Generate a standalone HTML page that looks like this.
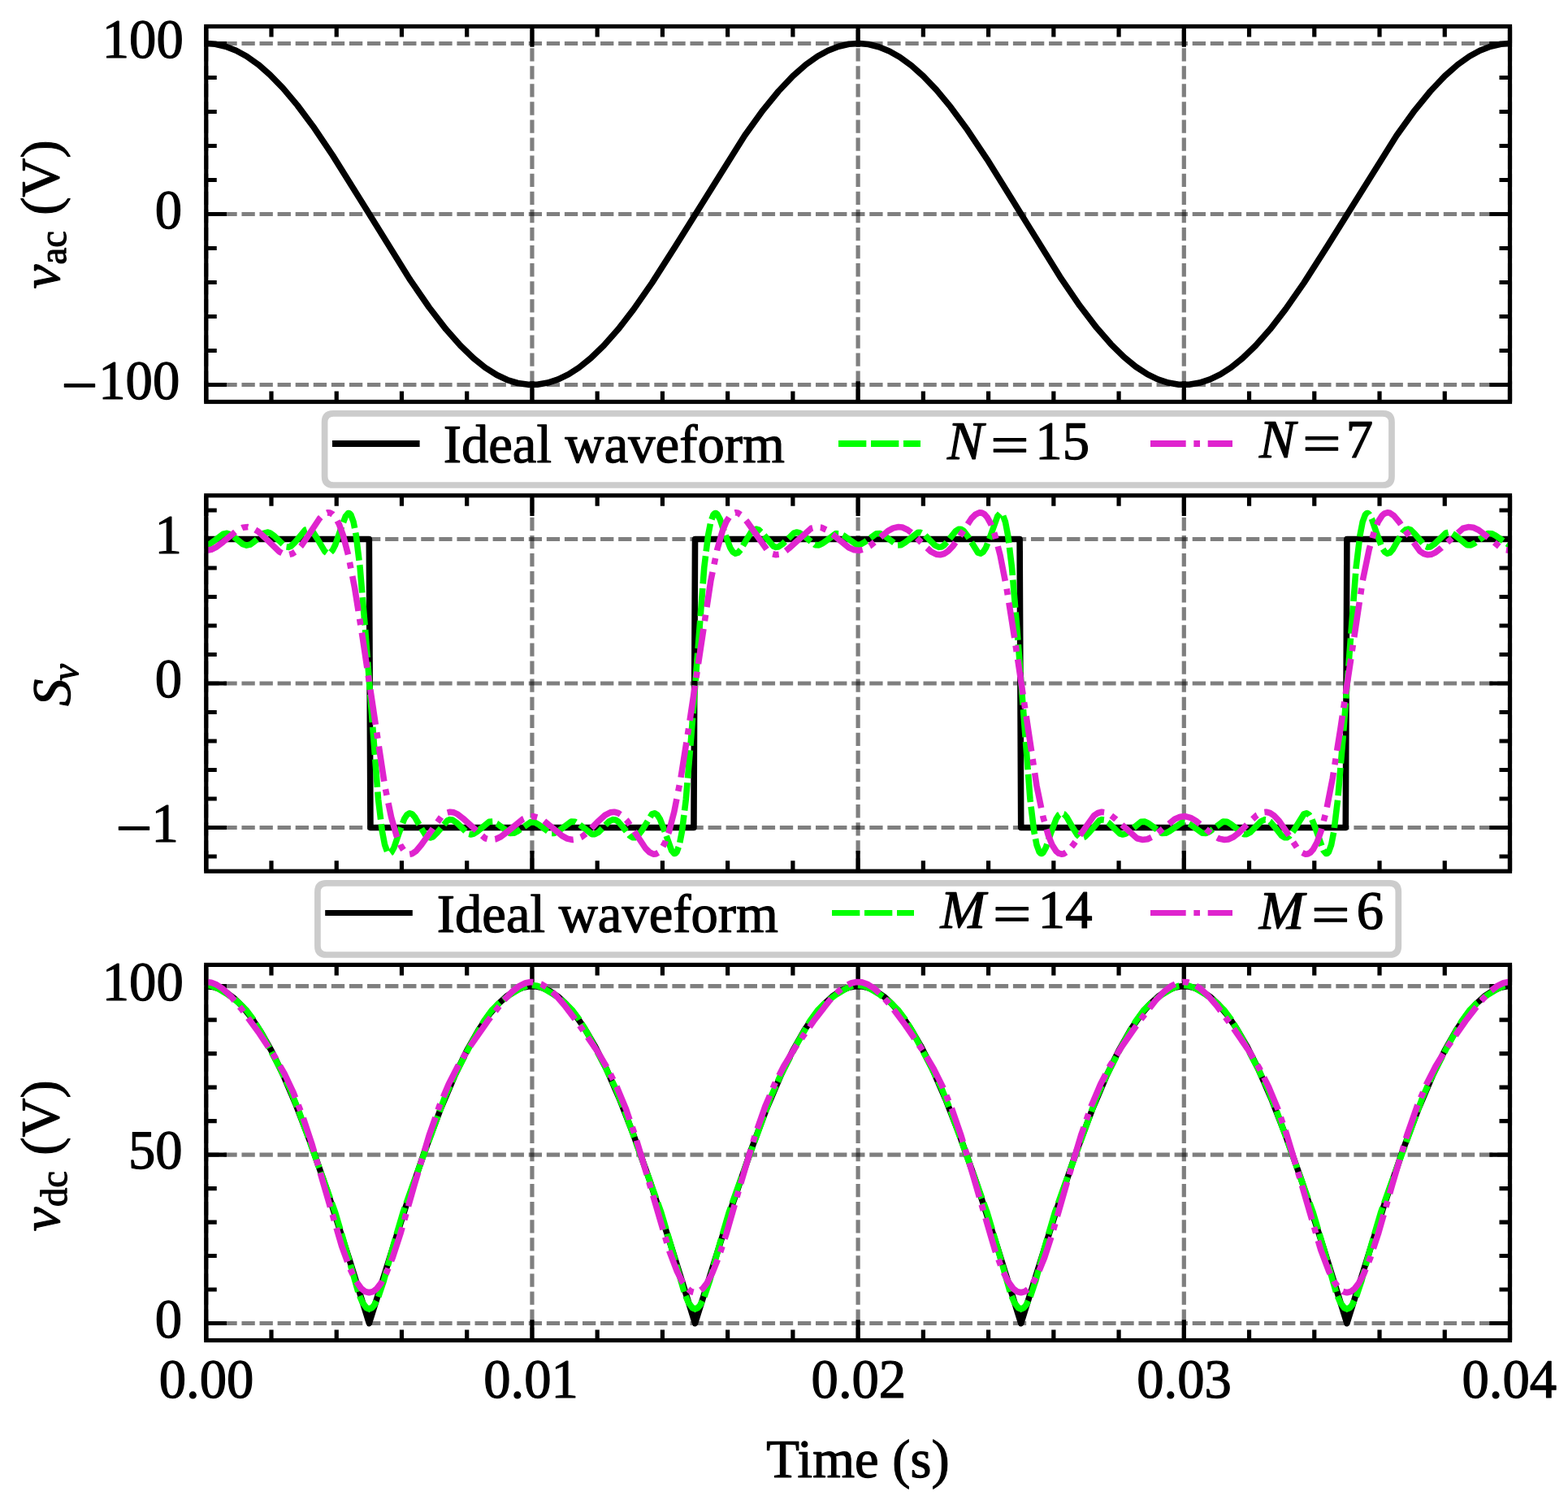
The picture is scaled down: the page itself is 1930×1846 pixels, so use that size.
<!DOCTYPE html>
<html><head><meta charset="utf-8"><title>Waveforms</title>
<style>html,body{margin:0;padding:0;background:#fff;overflow:hidden}svg{display:block}</style></head>
<body>
<svg width="1930" height="1846" viewBox="0 0 1930 1846">
<rect width="1930" height="1846" fill="#fff"/>
<defs>
<clipPath id="c0"><rect x="253.75" y="32.5" width="1604.75" height="462.0"/></clipPath>
<clipPath id="c1"><rect x="253.75" y="609.8" width="1604.75" height="462.4000000000001"/></clipPath>
<clipPath id="c2"><rect x="253.75" y="1187.4" width="1604.75" height="462.0999999999999"/></clipPath>
</defs>
<g stroke="#000" stroke-opacity="0.5" stroke-width="5.2" stroke-dasharray="16.3 5.78" stroke-dashoffset="0.45" fill="none"><path d="M253.75 494.5V32.5" /><path d="M654.94 494.5V32.5" /><path d="M1056.12 494.5V32.5" /><path d="M1457.31 494.5V32.5" /><path d="M1858.50 494.5V32.5" /><path d="M253.75 473.50H1858.5" /><path d="M253.75 263.50H1858.5" /><path d="M253.75 53.50H1858.5" /></g>
<path d="M253.75 494.5v-25.2M253.75 32.5v25.2M333.99 494.5v-13.0M333.99 32.5v13.0M414.23 494.5v-13.0M414.23 32.5v13.0M494.46 494.5v-13.0M494.46 32.5v13.0M574.70 494.5v-13.0M574.70 32.5v13.0M654.94 494.5v-25.2M654.94 32.5v25.2M735.17 494.5v-13.0M735.17 32.5v13.0M815.41 494.5v-13.0M815.41 32.5v13.0M895.65 494.5v-13.0M895.65 32.5v13.0M975.89 494.5v-13.0M975.89 32.5v13.0M1056.12 494.5v-25.2M1056.12 32.5v25.2M1136.36 494.5v-13.0M1136.36 32.5v13.0M1216.60 494.5v-13.0M1216.60 32.5v13.0M1296.84 494.5v-13.0M1296.84 32.5v13.0M1377.08 494.5v-13.0M1377.08 32.5v13.0M1457.31 494.5v-25.2M1457.31 32.5v25.2M1537.55 494.5v-13.0M1537.55 32.5v13.0M1617.79 494.5v-13.0M1617.79 32.5v13.0M1698.03 494.5v-13.0M1698.03 32.5v13.0M1778.26 494.5v-13.0M1778.26 32.5v13.0M1858.50 494.5v-25.2M1858.50 32.5v25.2M253.75 473.50h25.2M1858.5 473.50h-25.2M253.75 431.50h13.0M1858.5 431.50h-13.0M253.75 389.50h13.0M1858.5 389.50h-13.0M253.75 347.50h13.0M1858.5 347.50h-13.0M253.75 305.50h13.0M1858.5 305.50h-13.0M253.75 263.50h25.2M1858.5 263.50h-25.2M253.75 221.50h13.0M1858.5 221.50h-13.0M253.75 179.50h13.0M1858.5 179.50h-13.0M253.75 137.50h13.0M1858.5 137.50h-13.0M253.75 95.50h13.0M1858.5 95.50h-13.0M253.75 53.50h25.2M1858.5 53.50h-25.2" stroke="#000" stroke-width="5.2" fill="none"/>
<g clip-path="url(#c0)" fill="none" stroke-width="7.6" stroke-linejoin="round">
<polyline points="253.75,53.50 264.98,54.31 277.82,57.22 290.66,62.21 303.50,69.23 317.94,79.48 332.38,92.07 348.43,108.62 366.08,129.64 385.34,155.47 409.41,191.12 441.51,242.42 504.09,343.25 528.16,378.24 549.02,405.32 566.68,425.31 582.72,440.81 597.17,452.38 611.61,461.53 624.45,467.54 637.29,471.50 650.12,473.35 661.36,473.23 674.19,471.12 687.03,466.90 699.87,460.63 712.71,452.38 727.15,440.81 743.20,425.31 760.85,405.32 780.11,380.44 802.57,348.11 831.46,302.85 916.51,166.99 938.98,135.83 958.24,112.24 975.89,93.61 991.94,79.48 1006.38,69.23 1019.22,62.21 1032.05,57.22 1044.89,54.31 1057.73,53.52 1068.96,54.56 1081.80,57.73 1094.64,62.98 1107.48,70.25 1121.92,80.76 1136.36,93.61 1152.41,110.42 1170.06,131.68 1190.92,160.03 1215.00,196.10 1248.70,250.31 1304.86,340.81 1328.93,376.02 1349.79,403.36 1367.45,423.61 1383.49,439.38 1397.94,451.21 1412.38,460.63 1425.22,466.90 1438.06,471.12 1450.89,473.23 1463.73,473.23 1476.57,471.12 1489.41,466.90 1502.25,460.63 1515.08,452.38 1529.53,440.81 1545.57,425.31 1563.23,405.32 1582.48,380.44 1604.95,348.11 1633.84,302.85 1718.89,166.99 1741.35,135.83 1760.61,112.24 1778.26,93.61 1794.31,79.48 1808.75,69.23 1821.59,62.21 1834.43,57.22 1847.27,54.31 1858.50,53.50 1858.50,53.50" stroke="#000000" stroke-linecap="square"/>
</g>
<rect x="253.75" y="32.5" width="1604.75" height="462.0" fill="none" stroke="#000" stroke-width="5.2"/>
<g stroke="#000" stroke-opacity="0.5" stroke-width="5.2" stroke-dasharray="16.3 5.78" stroke-dashoffset="0.45" fill="none"><path d="M253.75 1072.2V609.8" /><path d="M654.94 1072.2V609.8" /><path d="M1056.12 1072.2V609.8" /><path d="M1457.31 1072.2V609.8" /><path d="M1858.50 1072.2V609.8" /><path d="M253.75 1018.49H1858.5" /><path d="M253.75 841.00H1858.5" /><path d="M253.75 663.51H1858.5" /></g>
<path d="M253.75 1072.2v-25.2M253.75 609.8v25.2M333.99 1072.2v-13.0M333.99 609.8v13.0M414.23 1072.2v-13.0M414.23 609.8v13.0M494.46 1072.2v-13.0M494.46 609.8v13.0M574.70 1072.2v-13.0M574.70 609.8v13.0M654.94 1072.2v-25.2M654.94 609.8v25.2M735.17 1072.2v-13.0M735.17 609.8v13.0M815.41 1072.2v-13.0M815.41 609.8v13.0M895.65 1072.2v-13.0M895.65 609.8v13.0M975.89 1072.2v-13.0M975.89 609.8v13.0M1056.12 1072.2v-25.2M1056.12 609.8v25.2M1136.36 1072.2v-13.0M1136.36 609.8v13.0M1216.60 1072.2v-13.0M1216.60 609.8v13.0M1296.84 1072.2v-13.0M1296.84 609.8v13.0M1377.08 1072.2v-13.0M1377.08 609.8v13.0M1457.31 1072.2v-25.2M1457.31 609.8v25.2M1537.55 1072.2v-13.0M1537.55 609.8v13.0M1617.79 1072.2v-13.0M1617.79 609.8v13.0M1698.03 1072.2v-13.0M1698.03 609.8v13.0M1778.26 1072.2v-13.0M1778.26 609.8v13.0M1858.50 1072.2v-25.2M1858.50 609.8v25.2M253.75 1053.99h13.0M1858.5 1053.99h-13.0M253.75 1018.49h25.2M1858.5 1018.49h-25.2M253.75 983.00h13.0M1858.5 983.00h-13.0M253.75 947.50h13.0M1858.5 947.50h-13.0M253.75 912.00h13.0M1858.5 912.00h-13.0M253.75 876.50h13.0M1858.5 876.50h-13.0M253.75 841.00h25.2M1858.5 841.00h-25.2M253.75 805.50h13.0M1858.5 805.50h-13.0M253.75 770.00h13.0M1858.5 770.00h-13.0M253.75 734.50h13.0M1858.5 734.50h-13.0M253.75 699.00h13.0M1858.5 699.00h-13.0M253.75 663.51h25.2M1858.5 663.51h-25.2M253.75 628.01h13.0M1858.5 628.01h-13.0" stroke="#000" stroke-width="5.2" fill="none"/>
<g clip-path="url(#c1)" fill="none" stroke-width="7.6" stroke-linejoin="round">
<polyline points="253.75,663.51 454.34,663.51 455.95,1018.49 853.93,1018.49 855.53,663.51 1255.11,663.51 1256.72,1018.49 1656.30,1018.49 1657.91,663.51 1858.50,663.51 1858.50,663.51" stroke="#000000" stroke-linecap="square"/>
<polyline points="253.75,670.54 258.56,669.29 264.98,664.62 274.61,657.31 279.43,656.35 284.24,657.94 290.66,662.99 298.68,669.55 303.50,671.10 308.31,669.96 313.13,666.45 324.36,656.43 329.17,655.07 332.38,655.84 337.20,659.32 351.64,672.94 354.85,673.33 358.06,672.12 362.87,667.61 375.71,652.15 378.92,651.04 382.13,651.95 385.34,654.89 390.15,662.34 399.78,678.62 402.99,681.02 406.20,680.63 409.41,677.15 412.62,670.74 419.04,652.19 425.46,635.19 428.67,631.61 430.27,631.80 431.88,633.56 435.09,642.39 438.30,658.92 443.11,698.40 449.53,774.20 465.58,983.60 470.39,1023.08 473.60,1039.61 476.81,1048.44 478.42,1050.20 480.02,1050.39 481.62,1049.19 484.83,1043.45 491.25,1024.82 497.67,1007.72 500.88,1002.72 504.09,1000.80 507.30,1001.87 510.51,1005.43 516.93,1016.69 523.35,1027.11 526.56,1030.05 529.77,1030.96 532.98,1029.85 537.79,1025.15 550.63,1009.88 553.84,1008.67 557.05,1009.06 561.86,1012.30 576.30,1026.16 579.51,1026.93 582.72,1026.34 587.54,1023.26 601.98,1011.36 606.80,1011.13 611.61,1013.48 627.66,1025.39 632.47,1025.29 637.29,1022.79 653.33,1011.60 658.15,1012.02 662.96,1014.74 677.40,1025.29 682.22,1025.39 687.03,1023.03 703.08,1011.13 707.89,1011.36 712.71,1014.17 728.76,1026.80 731.97,1026.71 736.78,1024.10 743.20,1017.47 749.62,1010.92 754.43,1008.67 757.64,1009.07 760.85,1011.06 765.67,1016.43 775.29,1028.62 778.50,1030.64 781.71,1030.76 784.92,1028.82 789.74,1022.45 802.57,1001.87 805.78,1000.80 808.99,1002.72 812.20,1007.72 817.02,1019.95 826.65,1046.81 829.86,1050.39 831.46,1050.20 833.06,1048.44 836.27,1039.61 839.48,1023.08 844.30,983.60 850.72,907.80 866.76,698.40 871.58,658.92 874.79,642.39 878.00,633.56 879.60,631.80 881.21,631.61 882.81,632.81 886.02,638.55 892.44,657.18 898.86,674.28 902.07,679.28 905.28,681.20 908.49,680.13 911.70,676.57 918.12,665.31 924.54,654.89 927.75,651.95 930.95,651.04 934.16,652.15 938.98,656.85 951.82,672.12 955.03,673.33 958.24,672.94 963.05,669.70 977.49,655.84 980.70,655.07 983.91,655.66 988.73,658.74 1003.17,670.64 1007.98,670.87 1012.80,668.52 1028.84,656.61 1033.66,656.71 1038.47,659.21 1054.52,670.40 1059.33,669.98 1064.15,667.26 1078.59,656.71 1083.41,656.61 1088.22,658.97 1104.27,670.87 1109.08,670.64 1113.90,667.83 1129.94,655.20 1133.15,655.29 1137.97,657.90 1144.39,664.53 1150.81,671.08 1155.62,673.33 1158.83,672.93 1162.04,670.94 1166.85,665.57 1176.48,653.38 1179.69,651.36 1182.90,651.24 1186.11,653.18 1190.92,659.55 1203.76,680.13 1206.97,681.20 1210.18,679.28 1213.39,674.28 1218.20,662.05 1227.83,635.19 1231.04,631.61 1232.65,631.80 1234.25,633.56 1237.46,642.39 1240.67,658.92 1245.49,698.40 1251.90,774.20 1267.95,983.60 1272.77,1023.08 1275.98,1039.61 1279.19,1048.44 1280.79,1050.20 1282.39,1050.39 1284.00,1049.19 1287.21,1043.45 1293.63,1024.82 1300.05,1007.72 1303.26,1002.72 1306.47,1000.80 1309.68,1001.87 1312.89,1005.43 1319.30,1016.69 1325.72,1027.11 1328.93,1030.05 1332.14,1030.96 1335.35,1029.85 1340.17,1025.15 1353.00,1009.88 1356.21,1008.67 1359.42,1009.06 1364.24,1012.30 1378.68,1026.16 1381.89,1026.93 1385.10,1026.34 1389.91,1023.26 1404.36,1011.36 1409.17,1011.13 1413.98,1013.48 1430.03,1025.39 1434.85,1025.29 1439.66,1022.79 1455.71,1011.60 1460.52,1012.02 1465.34,1014.74 1479.78,1025.29 1484.59,1025.39 1489.41,1023.03 1505.46,1011.13 1510.27,1011.36 1515.08,1014.17 1531.13,1026.80 1534.34,1026.71 1539.15,1024.10 1545.57,1017.47 1551.99,1010.92 1556.81,1008.67 1560.02,1009.07 1563.23,1011.06 1568.04,1016.43 1577.67,1028.62 1580.88,1030.64 1584.09,1030.76 1587.30,1028.82 1592.11,1022.45 1604.95,1001.87 1608.16,1000.80 1611.37,1002.72 1614.58,1007.72 1619.39,1019.95 1629.02,1046.81 1632.23,1050.39 1633.84,1050.20 1635.44,1048.44 1638.65,1039.61 1641.86,1023.08 1646.67,983.60 1653.09,907.80 1669.14,698.40 1673.95,658.92 1677.16,642.39 1680.37,633.56 1681.98,631.80 1683.58,631.61 1685.19,632.81 1688.40,638.55 1694.82,657.18 1701.23,674.28 1704.44,679.28 1707.65,681.20 1710.86,680.13 1714.07,676.57 1720.49,665.31 1726.91,654.89 1730.12,651.95 1733.33,651.04 1736.54,652.15 1741.35,656.85 1754.19,672.12 1757.40,673.33 1760.61,672.94 1765.42,669.70 1779.87,655.84 1783.08,655.07 1786.29,655.66 1791.10,658.74 1805.54,670.64 1810.36,670.87 1815.17,668.52 1831.22,656.61 1836.03,656.71 1840.85,659.21 1856.90,670.40 1858.50,670.54 1858.50,670.54" stroke="#00ff00" stroke-dasharray="34.33 5.67" stroke-dashoffset="0.5"/>
<polyline points="253.75,677.42 260.17,676.30 266.59,673.09 274.61,666.92 292.26,652.30 298.68,649.31 305.10,648.55 311.52,650.25 317.94,654.24 325.96,661.63 343.62,678.81 350.04,682.11 354.85,682.70 359.66,681.46 364.48,678.36 370.90,671.57 378.92,659.91 393.36,638.03 398.18,633.22 402.99,630.91 406.20,631.11 409.41,632.90 412.62,636.44 417.43,645.27 422.25,658.53 428.67,683.12 436.69,724.11 446.32,784.98 473.60,966.91 481.62,1005.75 488.04,1028.39 492.86,1040.16 497.67,1047.56 500.88,1050.21 504.09,1051.18 507.30,1050.64 512.11,1047.42 518.53,1039.74 544.21,1003.64 549.02,1000.54 553.84,999.30 558.65,999.89 563.47,1002.13 569.89,1007.14 597.17,1031.75 603.59,1033.45 610.00,1032.69 616.42,1029.70 624.45,1023.64 643.70,1007.94 650.12,1005.21 656.54,1004.65 662.96,1006.32 669.38,1009.99 679.01,1017.92 691.85,1028.65 698.27,1032.14 704.68,1033.49 709.50,1032.91 715.92,1030.02 722.34,1025.05 735.17,1011.89 744.80,1003.19 751.22,999.89 756.04,999.30 760.85,1000.54 765.67,1003.64 772.08,1010.43 780.11,1022.09 794.55,1043.97 799.37,1048.78 804.18,1051.09 807.39,1050.89 810.60,1049.10 813.81,1045.56 818.62,1036.73 823.44,1023.47 829.86,998.88 837.88,957.89 847.51,897.02 874.79,715.09 882.81,676.25 889.23,653.61 894.05,641.84 898.86,634.44 902.07,631.79 905.28,630.82 908.49,631.36 913.30,634.58 919.72,642.26 945.40,678.36 950.21,681.46 955.03,682.70 959.84,682.11 964.65,679.87 971.07,674.86 998.35,650.25 1004.77,648.55 1011.19,649.31 1017.61,652.30 1025.63,658.36 1044.89,674.06 1051.31,676.79 1057.73,677.35 1064.15,675.68 1070.57,672.01 1080.20,664.08 1093.03,653.35 1099.45,649.86 1105.87,648.51 1110.69,649.09 1117.11,651.98 1123.52,656.95 1136.36,670.11 1145.99,678.81 1152.41,682.11 1157.22,682.70 1162.04,681.46 1166.85,678.36 1173.27,671.57 1181.30,659.91 1195.74,638.03 1200.55,633.22 1205.37,630.91 1208.58,631.11 1211.79,632.90 1215.00,636.44 1219.81,645.27 1224.62,658.53 1231.04,683.12 1239.07,724.11 1248.70,784.98 1275.98,966.91 1284.00,1005.75 1290.42,1028.39 1295.23,1040.16 1300.05,1047.56 1303.26,1050.21 1306.47,1051.18 1309.68,1050.64 1314.49,1047.42 1320.91,1039.74 1346.58,1003.64 1351.40,1000.54 1356.21,999.30 1361.03,999.89 1365.84,1002.13 1372.26,1007.14 1399.54,1031.75 1405.96,1033.45 1412.38,1032.69 1418.80,1029.70 1426.82,1023.64 1446.08,1007.94 1452.50,1005.21 1458.92,1004.65 1465.34,1006.32 1471.76,1009.99 1481.38,1017.92 1494.22,1028.65 1500.64,1032.14 1507.06,1033.49 1511.87,1032.91 1518.29,1030.02 1524.71,1025.05 1537.55,1011.89 1547.18,1003.19 1553.60,999.89 1558.41,999.30 1563.23,1000.54 1568.04,1003.64 1574.46,1010.43 1582.48,1022.09 1596.93,1043.97 1601.74,1048.78 1606.55,1051.09 1609.76,1050.89 1612.97,1049.10 1616.18,1045.56 1621.00,1036.73 1625.81,1023.47 1632.23,998.88 1640.25,957.89 1649.88,897.02 1677.16,715.09 1685.19,676.25 1691.61,653.61 1696.42,641.84 1701.23,634.44 1704.44,631.79 1707.65,630.82 1710.86,631.36 1715.68,634.58 1722.10,642.26 1747.77,678.36 1752.59,681.46 1757.40,682.70 1762.21,682.11 1767.03,679.87 1773.45,674.86 1800.73,650.25 1807.15,648.55 1813.57,649.31 1819.99,652.30 1828.01,658.36 1847.27,674.06 1853.69,676.79 1858.50,677.42 1858.50,677.42" stroke="#df24ce" stroke-dasharray="43.67 9.67 7.67 9.67" stroke-dashoffset="0.5"/>
</g>
<rect x="253.75" y="609.8" width="1604.75" height="462.4000000000001" fill="none" stroke="#000" stroke-width="5.2"/>
<g stroke="#000" stroke-opacity="0.5" stroke-width="5.2" stroke-dasharray="16.3 5.78" stroke-dashoffset="0.45" fill="none"><path d="M253.75 1649.5V1187.4" /><path d="M654.94 1649.5V1187.4" /><path d="M1056.12 1649.5V1187.4" /><path d="M1457.31 1649.5V1187.4" /><path d="M1858.50 1649.5V1187.4" /><path d="M253.75 1628.50H1858.5" /><path d="M253.75 1421.05H1858.5" /><path d="M253.75 1213.60H1858.5" /></g>
<path d="M253.75 1649.5v-25.2M253.75 1187.4v25.2M333.99 1649.5v-13.0M333.99 1187.4v13.0M414.23 1649.5v-13.0M414.23 1187.4v13.0M494.46 1649.5v-13.0M494.46 1187.4v13.0M574.70 1649.5v-13.0M574.70 1187.4v13.0M654.94 1649.5v-25.2M654.94 1187.4v25.2M735.17 1649.5v-13.0M735.17 1187.4v13.0M815.41 1649.5v-13.0M815.41 1187.4v13.0M895.65 1649.5v-13.0M895.65 1187.4v13.0M975.89 1649.5v-13.0M975.89 1187.4v13.0M1056.12 1649.5v-25.2M1056.12 1187.4v25.2M1136.36 1649.5v-13.0M1136.36 1187.4v13.0M1216.60 1649.5v-13.0M1216.60 1187.4v13.0M1296.84 1649.5v-13.0M1296.84 1187.4v13.0M1377.08 1649.5v-13.0M1377.08 1187.4v13.0M1457.31 1649.5v-25.2M1457.31 1187.4v25.2M1537.55 1649.5v-13.0M1537.55 1187.4v13.0M1617.79 1649.5v-13.0M1617.79 1187.4v13.0M1698.03 1649.5v-13.0M1698.03 1187.4v13.0M1778.26 1649.5v-13.0M1778.26 1187.4v13.0M1858.50 1649.5v-25.2M1858.50 1187.4v25.2M253.75 1628.50h25.2M1858.5 1628.50h-25.2M253.75 1587.01h13.0M1858.5 1587.01h-13.0M253.75 1545.52h13.0M1858.5 1545.52h-13.0M253.75 1504.03h13.0M1858.5 1504.03h-13.0M253.75 1462.54h13.0M1858.5 1462.54h-13.0M253.75 1421.05h25.2M1858.5 1421.05h-25.2M253.75 1379.56h13.0M1858.5 1379.56h-13.0M253.75 1338.07h13.0M1858.5 1338.07h-13.0M253.75 1296.58h13.0M1858.5 1296.58h-13.0M253.75 1255.09h13.0M1858.5 1255.09h-13.0M253.75 1213.60h25.2M1858.5 1213.60h-25.2" stroke="#000" stroke-width="5.2" fill="none"/>
<g clip-path="url(#c2)" fill="none" stroke-width="7.6" stroke-linejoin="round">
<polyline points="253.75,1213.60 261.77,1214.42 269.80,1216.87 279.43,1221.96 289.05,1229.36 298.68,1239.02 309.92,1253.09 321.15,1270.06 333.99,1292.84 348.43,1322.51 364.48,1360.04 382.13,1406.18 402.99,1466.12 430.27,1550.75 454.34,1628.50 499.28,1485.51 523.35,1415.06 542.61,1364.03 560.26,1322.51 574.70,1292.84 589.14,1267.46 601.98,1248.77 613.21,1235.55 624.45,1225.37 634.08,1219.13 643.70,1215.21 651.73,1213.73 659.75,1213.90 667.78,1215.70 677.40,1220.01 687.03,1226.64 696.66,1235.55 707.89,1248.77 719.13,1264.92 731.97,1286.82 746.41,1315.56 762.46,1352.17 780.11,1397.45 800.97,1456.57 826.65,1535.45 855.53,1628.50 900.46,1485.51 924.54,1415.06 943.79,1364.03 961.44,1322.51 975.89,1292.84 990.33,1267.46 1003.17,1248.77 1014.40,1235.55 1025.63,1225.37 1035.26,1219.13 1044.89,1215.21 1052.92,1213.73 1060.94,1213.90 1068.96,1215.70 1078.59,1220.01 1088.22,1226.64 1097.85,1235.55 1109.08,1248.77 1120.32,1264.92 1133.15,1286.82 1147.60,1315.56 1163.64,1352.17 1181.30,1397.45 1202.16,1456.57 1227.83,1535.45 1256.72,1628.50 1301.65,1485.51 1325.72,1415.06 1344.98,1364.03 1362.63,1322.51 1377.08,1292.84 1391.52,1267.46 1404.36,1248.77 1415.59,1235.55 1426.82,1225.37 1436.45,1219.13 1446.08,1215.21 1454.10,1213.73 1462.13,1213.90 1470.15,1215.70 1479.78,1220.01 1489.41,1226.64 1499.04,1235.55 1510.27,1248.77 1521.50,1264.92 1534.34,1286.82 1548.78,1315.56 1564.83,1352.17 1582.48,1397.45 1603.34,1456.57 1629.02,1535.45 1657.91,1628.50 1702.84,1485.51 1726.91,1415.06 1746.17,1364.03 1763.82,1322.51 1778.26,1292.84 1792.71,1267.46 1805.54,1248.77 1816.78,1235.55 1828.01,1225.37 1837.64,1219.13 1847.27,1215.21 1855.29,1213.73 1858.50,1213.60 1858.50,1213.60" stroke="#000000" stroke-linecap="square"/>
<polyline points="253.75,1212.44 260.17,1213.28 268.19,1216.42 279.43,1223.14 293.87,1233.86 303.50,1243.53 311.52,1254.25 321.15,1270.24 343.62,1312.65 356.45,1339.17 367.69,1367.05 412.62,1492.09 422.25,1524.42 441.51,1592.18 446.32,1603.29 451.13,1609.65 454.34,1610.89 457.55,1609.65 460.76,1605.98 465.58,1596.35 472.00,1577.40 484.83,1530.29 496.07,1492.09 507.30,1460.46 529.77,1398.83 547.42,1350.49 558.65,1325.39 579.51,1285.12 595.56,1256.70 605.19,1243.53 614.82,1233.86 627.66,1224.22 640.49,1216.42 648.52,1213.28 654.94,1212.44 661.36,1213.28 669.38,1216.42 680.61,1223.14 695.06,1233.86 704.68,1243.53 712.71,1254.25 722.34,1270.24 744.80,1312.65 757.64,1339.17 768.87,1367.05 813.81,1492.09 823.44,1524.42 842.69,1592.18 847.51,1603.29 852.32,1609.65 855.53,1610.89 858.74,1609.65 861.95,1605.98 866.76,1596.35 873.18,1577.40 886.02,1530.29 897.25,1492.09 908.49,1460.46 930.95,1398.83 948.61,1350.49 959.84,1325.39 980.70,1285.12 996.75,1256.70 1006.38,1243.53 1016.01,1233.86 1028.84,1224.22 1041.68,1216.42 1049.71,1213.28 1056.12,1212.44 1062.54,1213.28 1070.57,1216.42 1081.80,1223.14 1096.24,1233.86 1105.87,1243.53 1113.90,1254.25 1123.52,1270.24 1145.99,1312.65 1158.83,1339.17 1170.06,1367.05 1215.00,1492.09 1224.62,1524.42 1243.88,1592.18 1248.70,1603.29 1253.51,1609.65 1256.72,1610.89 1259.93,1609.65 1263.14,1605.98 1267.95,1596.35 1274.37,1577.40 1287.21,1530.29 1298.44,1492.09 1309.68,1460.46 1332.14,1398.83 1349.79,1350.49 1361.03,1325.39 1381.89,1285.12 1397.94,1256.70 1407.57,1243.53 1417.19,1233.86 1430.03,1224.22 1442.87,1216.42 1450.89,1213.28 1457.31,1212.44 1463.73,1213.28 1471.76,1216.42 1482.99,1223.14 1497.43,1233.86 1507.06,1243.53 1515.08,1254.25 1524.71,1270.24 1547.18,1312.65 1560.02,1339.17 1571.25,1367.05 1616.18,1492.09 1625.81,1524.42 1645.07,1592.18 1649.88,1603.29 1654.70,1609.65 1657.91,1610.89 1661.12,1609.65 1664.33,1605.98 1669.14,1596.35 1675.56,1577.40 1688.40,1530.29 1699.63,1492.09 1710.86,1460.46 1733.33,1398.83 1750.98,1350.49 1762.21,1325.39 1783.08,1285.12 1799.12,1256.70 1808.75,1243.53 1818.38,1233.86 1831.22,1224.22 1844.06,1216.42 1852.08,1213.28 1858.50,1212.44 1858.50,1212.44" stroke="#00ff00" stroke-dasharray="34.33 5.67" stroke-dashoffset="0.5"/>
<polyline points="253.75,1208.40 260.17,1209.27 266.59,1211.81 274.61,1217.15 284.24,1226.24 297.08,1241.52 317.94,1269.99 337.20,1298.75 350.04,1321.20 361.27,1344.90 372.50,1373.55 383.73,1407.40 399.78,1462.49 420.64,1533.65 430.27,1560.19 438.30,1576.78 444.72,1585.66 449.53,1589.48 454.34,1590.76 459.16,1589.48 463.97,1585.66 468.79,1579.39 475.21,1567.50 483.23,1547.70 492.86,1518.36 510.51,1456.78 528.16,1397.23 541.00,1360.62 552.23,1334.18 563.47,1312.30 577.91,1288.74 600.38,1256.54 619.63,1231.63 630.87,1219.89 638.89,1213.67 646.91,1209.75 653.33,1208.46 659.75,1208.89 666.17,1211.02 674.19,1215.91 683.82,1224.55 695.06,1237.46 712.71,1260.98 735.17,1293.67 748.01,1315.20 759.25,1337.66 770.48,1364.82 781.71,1397.23 796.16,1445.44 823.44,1538.49 833.06,1563.95 839.48,1576.78 845.90,1585.66 850.72,1589.48 855.53,1590.76 860.35,1589.48 865.16,1585.66 869.97,1579.39 876.39,1567.50 884.42,1547.70 894.05,1518.36 911.70,1456.78 929.35,1397.23 942.19,1360.62 953.42,1334.18 964.65,1312.30 979.10,1288.74 1001.56,1256.54 1020.82,1231.63 1032.05,1219.89 1040.08,1213.67 1048.10,1209.75 1054.52,1208.46 1060.94,1208.89 1067.36,1211.02 1075.38,1215.91 1085.01,1224.55 1096.24,1237.46 1113.90,1260.98 1136.36,1293.67 1149.20,1315.20 1160.43,1337.66 1171.67,1364.82 1182.90,1397.23 1197.34,1445.44 1224.62,1538.49 1234.25,1563.95 1240.67,1576.78 1247.09,1585.66 1251.90,1589.48 1256.72,1590.76 1261.53,1589.48 1266.35,1585.66 1271.16,1579.39 1277.58,1567.50 1285.60,1547.70 1295.23,1518.36 1312.89,1456.78 1330.54,1397.23 1343.38,1360.62 1354.61,1334.18 1365.84,1312.30 1380.28,1288.74 1402.75,1256.54 1422.01,1231.63 1433.24,1219.89 1441.26,1213.67 1449.29,1209.75 1455.71,1208.46 1462.13,1208.89 1468.55,1211.02 1476.57,1215.91 1486.20,1224.55 1497.43,1237.46 1515.08,1260.98 1537.55,1293.67 1550.39,1315.20 1561.62,1337.66 1572.85,1364.82 1584.09,1397.23 1598.53,1445.44 1625.81,1538.49 1635.44,1563.95 1641.86,1576.78 1648.28,1585.66 1653.09,1589.48 1657.91,1590.76 1662.72,1589.48 1667.53,1585.66 1672.35,1579.39 1678.77,1567.50 1686.79,1547.70 1696.42,1518.36 1714.07,1456.78 1731.72,1397.23 1744.56,1360.62 1755.80,1334.18 1767.03,1312.30 1781.47,1288.74 1803.94,1256.54 1823.20,1231.63 1834.43,1219.89 1842.45,1213.67 1850.48,1209.75 1856.90,1208.46 1858.50,1208.40 1858.50,1208.40" stroke="#df24ce" stroke-dasharray="43.67 9.67 7.67 9.67" stroke-dashoffset="0.5"/>
</g>
<rect x="253.75" y="1187.4" width="1604.75" height="462.0999999999999" fill="none" stroke="#000" stroke-width="5.2"/>
<path d="M410.40 508.8L1702.20 508.8Q1713.0 508.8 1713.0 519.60L1713.0 586.20Q1713.0 597.0 1702.20 597.0L410.40 597.0Q399.6 597.0 399.6 586.20L399.6 519.60Q399.6 508.8 410.40 508.8Z" fill="#fff" stroke="#cccccc" stroke-width="7.7" stroke-linejoin="round"/><path d="M409.0 546h107.6" stroke="#000000" stroke-width="8" fill="none"/><path d="M1032.0 546h101" stroke="#00ff00" stroke-width="8" fill="none" stroke-dasharray="34.33 5.67"/><path d="M1416.0 546h101" stroke="#df24ce" stroke-width="8" fill="none" stroke-dasharray="43.67 9.67 7.67 9.67"/>
<path d="M401.70 1086.9L1710.50 1086.9Q1721.3 1086.9 1721.3 1097.70L1721.3 1164.20Q1721.3 1175.0 1710.50 1175.0L401.70 1175.0Q390.9 1175.0 390.9 1164.20L390.9 1097.70Q390.9 1086.9 401.70 1086.9Z" fill="#fff" stroke="#cccccc" stroke-width="7.7" stroke-linejoin="round"/><path d="M400.2 1123.5h107.6" stroke="#000000" stroke-width="7.2" fill="none"/><path d="M1024.0 1123.5h101" stroke="#00ff00" stroke-width="7.2" fill="none" stroke-dasharray="34.33 5.67"/><path d="M1416.0 1123.5h101" stroke="#df24ce" stroke-width="7.2" fill="none" stroke-dasharray="43.67 9.67 7.67 9.67"/>
<g font-family='"Liberation Serif", "DejaVu Serif", serif' font-size="66.67" fill="#000" stroke="#000" stroke-width="1.2" stroke-linejoin="round" text-rendering="geometricPrecision">
<text transform="scale(1 1.02)" x="125.73" y="69.33">100</text>
<text transform="scale(1 1.02)" x="190.63" y="275.22">0</text>
<text transform="scale(1 1.02)"><tspan x="75.52" y="487.36" textLength="44.88" lengthAdjust="spacingAndGlyphs">−</tspan><tspan x="121.23" y="481.10">100</tspan></text>
<text transform="scale(1 1.02)" x="190.42" y="667.55">1</text>
<text transform="scale(1 1.02)" x="190.63" y="841.39">0</text>
<text transform="scale(1 1.02)"><tspan x="142.52" y="1021.67" textLength="44.88" lengthAdjust="spacingAndGlyphs">−</tspan><tspan x="186.42" y="1015.57">1</tspan></text>
<text transform="scale(1 1.02)" x="125.73" y="1206.69">100</text>
<text transform="scale(1 1.02)" x="158.00" y="1410.07">50</text>
<text transform="scale(1 1.02)" x="190.63" y="1613.45">0</text>
<text transform="scale(1 1.02)" x="195.76" y="1685.93">0.00</text>
<text transform="scale(1 1.02)" x="595.16" y="1685.93">0.01</text>
<text transform="scale(1 1.02)" x="998.55" y="1685.93">0.02</text>
<text transform="scale(1 1.02)" x="1399.15" y="1685.93">0.03</text>
<text transform="scale(1 1.02)" x="1799.41" y="1685.93">0.04</text>
<text x="943.26" y="1818.20">Time (s)</text>
<text x="545.69" y="569.00">Ideal waveform</text>
<text><tspan x="1166.07" y="564.90" font-style="italic">N</tspan><tspan x="1219.31" y="570.22" textLength="47.30" lengthAdjust="spacingAndGlyphs">=</tspan><tspan x="1274.30" y="564.90">15</tspan></text>
<text><tspan x="1550.00" y="563.20" font-style="italic">N</tspan><tspan x="1603.31" y="568.27" textLength="47.30" lengthAdjust="spacingAndGlyphs">=</tspan><tspan x="1656.67" y="563.30">7</tspan></text>
<text x="537.79" y="1147.00">Ideal waveform</text>
<text><tspan x="1157.62" y="1141.90" font-style="italic">M</tspan><tspan x="1222.10" y="1147.17" textLength="47.42" lengthAdjust="spacingAndGlyphs">=</tspan><tspan x="1277.83" y="1141.90">14</tspan></text>
<text><tspan x="1549.72" y="1142.90" font-style="italic">M</tspan><tspan x="1614.32" y="1148.22" textLength="47.18" lengthAdjust="spacingAndGlyphs">=</tspan><tspan x="1669.87" y="1142.90">6</tspan></text>
<text transform="rotate(-90)"><tspan x="-355.23" y="72.95" font-style="italic">v</tspan><tspan x="-325.38" y="81.33" font-size="46.67">ac</tspan><tspan x="-281.50" y="72.20"> (V)</tspan></text>
<text transform="rotate(-90)"><tspan x="-868.95" y="86.20" font-style="italic">S</tspan><tspan x="-837.66" y="95.55" font-style="italic" font-size="46.67">v</tspan></text>
<text transform="rotate(-90)"><tspan x="-1515.23" y="72.95" font-style="italic">v</tspan><tspan x="-1485.01" y="81.58" font-size="46.67">dc</tspan><tspan x="-1438.40" y="72.20"> (V)</tspan></text>
</g>
</svg>
</body></html>
